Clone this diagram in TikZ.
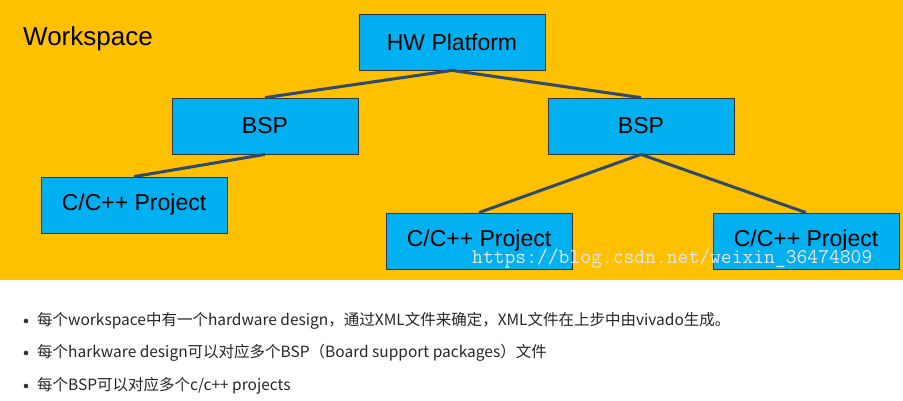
\documentclass[tikz,border=0pt]{standalone}
\usepackage{fontspec}
\setmainfont{Liberation Sans}
\newfontfamily\cjk{Noto Sans CJK SC}
\begin{document}
\begin{tikzpicture}[x=1pt,y=-1pt,
  box/.style={draw=black!80,line width=0.8pt,fill=boxc,minimum width=186pt,minimum height=56pt,inner sep=0pt,font=\fontsize{23}{25}\selectfont},
  link/.style={draw=linec,line width=3pt},
  bul/.style={anchor=west,inner sep=0pt,font=\cjk\fontsize{15.5}{17}\selectfont,text=black!85}]
\definecolor{boxc}{HTML}{00B0F0}
\definecolor{linec}{HTML}{2F4A6A}
\definecolor{bg}{HTML}{FFC000}
\useasboundingbox (0,0) rectangle (903,400);
\fill[white] (0,0) rectangle (903,400);
\fill[bg] (0,0) rectangle (903,280);
\node[anchor=west,inner sep=0pt,font=\fontsize{26}{28}\selectfont] (ws) at (23,39) {Workspace};
\node[box] (hw) at (452,42) {\raisebox{-2pt}{HW Platform}};
\node[box] (b1) at (265,126) {\raisebox{-2pt}{BSP}};
\node[box] (b2) at (641,126) {\raisebox{-2pt}{BSP}};
\node[box] (c1) at (134,205) {\raisebox{-2pt}{C/C++ Project}};
\node[box] (c2) at (479,241) {\raisebox{-2pt}{C/C++ Project}};
\node[box] (c3) at (806,241) {\raisebox{-2pt}{C/C++ Project}};
\draw[link] (hw.south) -- (b1.north);
\draw[link] (hw.south) -- (b2.north);
\draw[link] (b1.south) -- (c1.north);
\draw[link] (b2.south) -- (c2.north);
\draw[link] (b2.south) -- (c3.north);
\node[anchor=west,inner sep=0pt,text=white!80!gray,font=\ttfamily\fontsize{21}{22}\selectfont] (wm) at (472,259) {https://blog.csdn.net/weixin\_36474809};
\foreach \y/\t [count=\i] in {321/{每个workspace中有一个hardware design，通过XML文件来确定，XML文件在上步中由vivado生成。},
  353/{每个harkware design可以对应多个BSP（Board support packages）文件},
  386/{每个BSP可以对应多个c/c++ projects}}{
  \fill[black!80] (26,\y) circle (2.3);
  \node[bul] (t\i) at (37,\y) {\t};
}
\end{tikzpicture}
\end{document}
